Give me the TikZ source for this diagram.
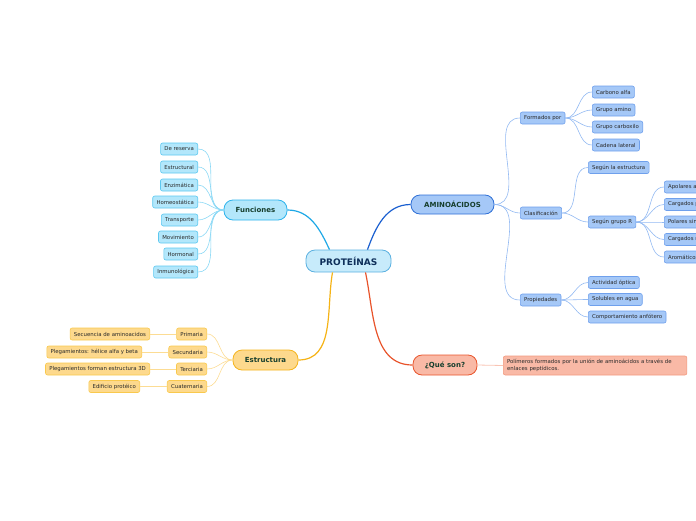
\documentclass[tikz,border=0pt]{standalone}
\usepackage{fontspec}
\setmainfont{DejaVu Sans}
\usetikzlibrary{calc}
\definecolor{protF}{HTML}{C7EBFB}\definecolor{protD}{HTML}{5AB0E0}\definecolor{protT}{HTML}{0E2F5A}
\definecolor{funF}{HTML}{B3E7FB}\definecolor{funD}{HTML}{2DB3EC}\definecolor{funL}{HTML}{1EA8E6}
\definecolor{funcD}{HTML}{5CC8F0}\definecolor{funcL}{HTML}{8AD8F5}
\definecolor{amF}{HTML}{A5C8F7}\definecolor{amD}{HTML}{2E6FD6}\definecolor{amL}{HTML}{1A5FD0}
\definecolor{amcD}{HTML}{6FA0EC}\definecolor{amcL}{HTML}{92B9F2}
\definecolor{esF}{HTML}{FDD98D}\definecolor{esD}{HTML}{F5B41C}\definecolor{esL}{HTML}{F5B316}
\definecolor{escD}{HTML}{F9C94D}\definecolor{escL}{HTML}{FCDC93}
\definecolor{quF}{HTML}{F9B9A6}\definecolor{quD}{HTML}{E8552C}\definecolor{quL}{HTML}{E8532A}
\definecolor{qucD}{HTML}{F29A80}\definecolor{qucL}{HTML}{F9C4B4}
\definecolor{mainT}{HTML}{173F2E}\definecolor{childT}{HTML}{2A2A2A}
\tikzset{
  mainbox/.style={draw, line width=0.8pt, rounded corners=9pt, font=\fontsize{7}{8}\selectfont\bfseries, text=mainT, minimum height=20pt, inner xsep=6pt},
  childbox/.style={draw, line width=0.6pt, rounded corners=2pt, font=\fontsize{5.4}{6}\selectfont, text=childT, minimum height=12pt, inner xsep=3.8pt, inner ysep=1pt},
  funchild/.style={childbox, fill=funF, draw=funcD, anchor=east},
  amchild/.style={childbox, fill=amF, draw=amcD, anchor=west},
  eschild/.style={childbox, fill=esF, draw=escD},
  mainline/.style={line width=1.2pt},
  subline/.style={line width=0.6pt},
}
\begin{document}
\begin{tikzpicture}[x=1pt,y=-1pt]
\useasboundingbox (0,0) rectangle (696,520);
\clip (0,0) rectangle (696,520);
% central
\node[draw=protD, fill=protF, line width=0.8pt, rounded corners=9pt, minimum width=85pt, minimum height=22pt, font=\fontsize{9}{10}\selectfont\bfseries, text=protT] (prot) at (348.5,261) {PROTEÍNAS};
% main topics
\node[mainbox, fill=funF, draw=funD, minimum width=63pt] (fun) at (255.5,210) {Funciones};
\node[mainbox, fill=amF, draw=amD, minimum width=83pt, minimum height=19pt, font=\fontsize{7}{8}\selectfont\bfseries] (am) at (452.5,204.5) {AMINOÁCIDOS};
\node[mainbox, fill=esF, draw=esD, minimum width=65pt] (es) at (265.5,360) {Estructura};
\node[mainbox, fill=quF, draw=quD, minimum width=64pt] (qu) at (445,365) {¿Qué son?};
% main connectors
\draw[mainline, funL] ($(prot.north)+(-19,0)$) to[out=115,in=0] (fun.east);
\draw[mainline, amL] ($(prot.north)+(19,0)$) to[out=70,in=180] (am.west);
\draw[mainline, esL] ($(prot.south)+(-16,0)$) to[out=-100,in=0] (es.east);
\draw[mainline, quL] ($(prot.south)+(17,0)$) to[out=-78,in=180] (qu.west);
% Funciones children
\node[funchild] (f1) at (198,149) {De reserva};
\node[funchild] (f2) at (198,167) {Estructural};
\node[funchild] (f3) at (198,185) {Enzimática};
\node[funchild] (f4) at (198,202) {Homeostática};
\node[funchild] (f5) at (198,220) {Transporte};
\node[funchild] (f6) at (198,237) {Movimiento};
\node[funchild] (f7) at (198,254) {Hormonal};
\node[funchild] (f8) at (198,272) {Inmunológica};
\foreach \c in {f1,f2,f3,f4,f5,f6,f7,f8}{\draw[subline, funcL] (fun.west) to[out=180,in=0] (\c.east);}
% Aminoacidos children
\node[amchild] (a1) at (520,118) {Formados por};
\node[amchild] (a2) at (520,213) {Clasificación};
\node[amchild] (a3) at (520,300) {Propiedades};
\foreach \c in {a1,a2,a3}{\draw[subline, amcL] (am.east) to[out=0,in=180] (\c.west);}
\node[amchild] (a11) at (592,92) {Carbono alfa};
\node[amchild] (a12) at (592,110) {Grupo amino};
\node[amchild] (a13) at (592,127) {Grupo carboxilo};
\node[amchild] (a14) at (592,145) {Cadena lateral};
\foreach \c in {a11,a12,a13,a14}{\draw[subline, amcL] (a1.east) to[out=0,in=180] (\c.west);}
\node[amchild] (a21) at (588,167.5) {Según la estructura};
\node[amchild] (a22) at (588,222) {Según grupo R};
\foreach \c in {a21,a22}{\draw[subline, amcL] (a2.east) to[out=0,in=180] (\c.west);}
\node[amchild] (r1) at (664,187) {Apolares alifáticos};
\node[amchild] (r2) at (664,204.5) {Cargados positivamente};
\node[amchild] (r3) at (664,222) {Polares sin carga};
\node[amchild] (r4) at (664,239.5) {Cargados negativamente};
\node[amchild] (r5) at (664,257) {Aromáticos};
\foreach \c in {r1,r2,r3,r4,r5}{\draw[subline, amcL] (a22.east) to[out=0,in=180] (\c.west);}
\node[amchild] (a31) at (588,282.5) {Actividad óptica};
\node[amchild] (a32) at (588,299.5) {Solubles en agua};
\node[amchild] (a33) at (588,317) {Comportamiento anfótero};
\foreach \c in {a31,a32,a33}{\draw[subline, amcL] (a3.east) to[out=0,in=180] (\c.west);}
% Estructura children
\node[eschild, anchor=east] (e1) at (207,334) {Primaria};
\node[eschild, anchor=east] (e2) at (207,352) {Secundaria};
\node[eschild, anchor=east] (e3) at (207,369) {Terciaria};
\node[eschild, anchor=east] (e4) at (207,386.5) {Cuaternaria};
\foreach \c in {e1,e2,e3,e4}{\draw[subline, escL] (es.west) to[out=180,in=0] (\c.east);}
\node[eschild, anchor=east] (e11) at (150,334) {Secuencia de aminoacidos};
\node[eschild, anchor=east] (e21) at (142,352) {Plegamientos: hélice alfa y beta};
\node[eschild, anchor=east] (e31) at (150,369) {Plegamientos forman estructura 3D};
\node[eschild, anchor=east] (e41) at (140,386.5) {Edificio protéico};
\draw[subline, escL] (e1.west) -- (e11.east);
\draw[subline, escL] (e2.west) -- (e21.east);
\draw[subline, escL] (e3.west) -- (e31.east);
\draw[subline, escL] (e4.west) -- (e41.east);
% Que son child
\node[childbox, fill=quF, draw=qucD, anchor=west, text width=176pt, align=left, minimum height=19pt, inner ysep=2pt, font=\fontsize{5.4}{6.4}\selectfont] (q1) at (503,365.5) {Polímeros formados por la unión de aminoácidos a través de\\enlaces peptídicos.};
\draw[subline, qucL, line width=0.8pt] (qu.east) -- (q1.west);
\end{tikzpicture}
\end{document}
